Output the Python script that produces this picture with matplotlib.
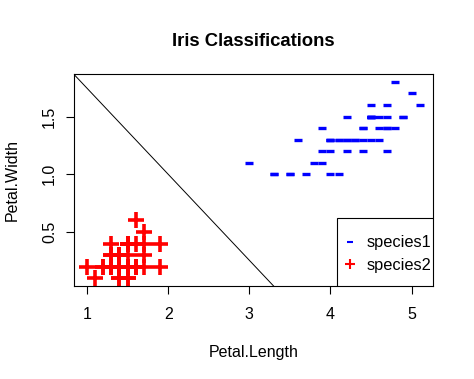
import matplotlib
matplotlib.use("Agg")
import matplotlib.pyplot as plt
from matplotlib.lines import Line2D
from matplotlib.patches import Rectangle
import numpy as np

plt.rcParams["font.family"] = ["Liberation Sans", "DejaVu Sans"]

# iris petal measurements
setosa_len = [1.4, 1.4, 1.3, 1.5, 1.4, 1.7, 1.4, 1.5, 1.4, 1.5, 1.5, 1.6, 1.4, 1.1, 1.2,
              1.5, 1.3, 1.4, 1.7, 1.5, 1.7, 1.5, 1.0, 1.7, 1.9, 1.6, 1.6, 1.5, 1.4, 1.6,
              1.6, 1.5, 1.5, 1.4, 1.5, 1.2, 1.3, 1.4, 1.3, 1.5, 1.3, 1.3, 1.3, 1.6, 1.9,
              1.4, 1.6, 1.4, 1.5, 1.4]
setosa_wid = [0.2, 0.2, 0.2, 0.2, 0.2, 0.4, 0.3, 0.2, 0.2, 0.1, 0.2, 0.2, 0.1, 0.1, 0.2,
              0.4, 0.4, 0.3, 0.3, 0.3, 0.2, 0.4, 0.2, 0.5, 0.2, 0.2, 0.4, 0.2, 0.2, 0.2,
              0.2, 0.4, 0.1, 0.2, 0.2, 0.2, 0.2, 0.1, 0.2, 0.2, 0.3, 0.3, 0.2, 0.6, 0.4,
              0.3, 0.2, 0.2, 0.2, 0.2]
versi_len = [4.7, 4.5, 4.9, 4.0, 4.6, 4.5, 4.7, 3.3, 4.6, 3.9, 3.5, 4.2, 4.0, 4.7, 3.6,
             4.4, 4.5, 4.1, 4.5, 3.9, 4.8, 4.0, 4.9, 4.7, 4.3, 4.4, 4.8, 5.0, 4.5, 3.5,
             3.8, 3.7, 3.9, 5.1, 4.5, 4.5, 4.7, 4.4, 4.1, 4.0, 4.4, 4.6, 4.0, 3.3, 4.2,
             4.2, 4.2, 4.3, 3.0, 4.1]
versi_wid = [1.4, 1.5, 1.5, 1.3, 1.5, 1.3, 1.6, 1.0, 1.3, 1.4, 1.0, 1.5, 1.0, 1.4, 1.3,
             1.4, 1.5, 1.0, 1.5, 1.1, 1.8, 1.3, 1.5, 1.2, 1.3, 1.4, 1.4, 1.7, 1.5, 1.0,
             1.1, 1.0, 1.2, 1.6, 1.5, 1.6, 1.5, 1.3, 1.3, 1.3, 1.2, 1.4, 1.2, 1.0, 1.3,
             1.2, 1.3, 1.3, 1.1, 1.3]

# decision boundary
intercept = 2.49
slope = -0.745

fig = plt.figure(figsize=(4.74, 3.79), dpi=100)
ax = fig.add_axes([0.1555, 0.2454, 0.758, 0.5593])

ax.plot(versi_len, versi_wid, ls="none", marker="_", ms=6, mew=2.4, color="#0000ff")
ax.plot(setosa_len, setosa_wid, ls="none", marker="+", ms=11, mew=2.6, color="#ff0000")

xmin, xmax = 1.0, 5.1
ymin, ymax = 0.1, 1.8
ax.set_xlim(xmin - 0.04 * (xmax - xmin), xmax + 0.04 * (xmax - xmin))
ax.set_ylim(ymin - 0.04 * (ymax - ymin), ymax + 0.04 * (ymax - ymin))

xs = np.array(ax.get_xlim())
ax.plot(xs, intercept + slope * xs, color="black", lw=0.7)

ax.set_xticks([1, 2, 3, 4, 5])
ax.set_yticks([0.5, 1.0, 1.5])
ax.set_yticklabels(["0.5", "1.0", "1.5"], rotation=90, va="center")
ax.tick_params(direction="out", length=6, width=0.8, labelsize=11.5, pad=9)
ax.tick_params(axis="y", pad=6)
for s in ax.spines.values():
    s.set_linewidth(0.8)

ax.set_title("Iris Classifications", fontsize=13.3, fontweight="bold", pad=20)
ax.set_xlabel("Petal.Length", fontsize=11.5, labelpad=17)
ax.set_ylabel("Petal.Width", fontsize=11.5, labelpad=16)

# legend box in bottom right, R style
ax.add_patch(Rectangle((0.733, 0.0), 0.267, 0.321, transform=ax.transAxes,
                       facecolor="white", edgecolor="black", lw=0.8, zorder=4))
handles = [
    Line2D([], [], ls="none", marker="_", ms=4, mew=1.5, color="#0000ff"),
    Line2D([], [], ls="none", marker="+", ms=7, mew=1.5, color="#ff0000"),
]
leg = ax.legend(handles, ["species1", "species2"], loc="center",
                bbox_to_anchor=(0.87, 0.151), fontsize=11.8, frameon=False,
                borderpad=0, borderaxespad=0, handlelength=1.0, handletextpad=0.5,
                labelspacing=0.45)
leg.set_zorder(5)

fig.savefig("out.png", dpi=100)
